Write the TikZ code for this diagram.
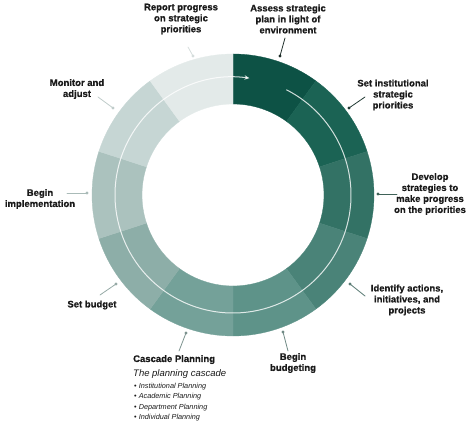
\documentclass[tikz,border=0pt]{standalone}
\usepackage{fontspec}
\setmainfont{Liberation Sans}[BoldFeatures={FakeBold=0.8}]
\usetikzlibrary{arrows.meta, positioning}

\definecolor{segA}{HTML}{0D5245}
\definecolor{segB}{HTML}{1B6354}
\definecolor{segC}{HTML}{337265}
\definecolor{segD}{HTML}{4A8378}
\definecolor{segE}{HTML}{5E9389}
\definecolor{segF}{HTML}{74A199}
\definecolor{segG}{HTML}{8DAEA8}
\definecolor{segH}{HTML}{ABC2BE}
\definecolor{segI}{HTML}{C6D6D4}
\definecolor{segJ}{HTML}{E3EAE9}
\definecolor{txt}{HTML}{1A1A1A}

\begin{document}
\begin{tikzpicture}[x=1pt, y=1pt, >=Stealth, line join=round, line cap=round,
    lbl/.style={font=\fontsize{9.5}{11}\selectfont\bfseries, text=txt, align=center, inner sep=0pt},
    lead/.style={line width=0.8pt}]
    \useasboundingbox (0,0) rectangle (474,428);
    \coordinate (O) at (233,233);

    % ring of ten steps, clockwise from the top
    \foreach \i/\col in {0/segA,1/segB,2/segC,3/segD,4/segE,5/segF,6/segG,7/segH,8/segI,9/segJ} {
        \pgfmathsetmacro\a{90-36*\i}
        \pgfmathsetmacro\b{54-36*\i}
        \fill[\col, draw=\col, line width=0.3pt, shift={(O)}] (\a:141) arc[start angle=\a, end angle=\b, radius=141]
            -- (\b:91) arc[start angle=\b, end angle=\a, radius=91] -- cycle;
    }

    \draw[white, opacity=0.8, line width=1pt, -{Stealth[length=5pt, width=4.5pt]}, shift={(O)}]
        (63:118) arc[start angle=63, end angle=-278, radius=118];

    \node[lbl] (assess) at (288,409) {Assess strategic\\plan in light of\\environment};
    \node[lbl] (setprio) at (393,333) {Set institutional\\strategic\\priorities};
    \node[lbl] (develop) at (430,234) {Develop\\strategies to\\make progress\\on the priorities};
    \node[lbl] (identify) at (407,128) {Identify actions,\\initiatives, and\\projects};
    \node[lbl] (budgeting) at (293,65) {Begin\\budgeting};
    \node[lbl] (setbudget) at (92,123) {Set budget};
    \node[lbl] (implement) at (40,229) {Begin\\implementation};
    \node[lbl] (monitor) at (77,339) {Monitor and\\adjust};
    \node[lbl] (report) at (181,409) {Report progress\\on strategic\\priorities};

    \node[lbl, anchor=base west] (cascade) at (133,66) {Cascade Planning};
    \node[lbl, anchor=base west, font=\fontsize{9.5}{11}\selectfont\itshape] (cascsub) at (133,51) {The planning cascade};
    \node[lbl, anchor=north west, align=left, font=\fontsize{7.3}{10.4}\selectfont\itshape] (plans) at (134,45)
        {{\upshape\textbullet} Institutional Planning\\{\upshape\textbullet} Academic Planning\\{\upshape\textbullet} Department Planning\\{\upshape\textbullet} Individual Planning};

    \coordinate (assess-a) at (285,390);    \coordinate (assess-b) at (280,372);
    \coordinate (setprio-a) at (365,331);   \coordinate (setprio-b) at (349,320);
    \coordinate (develop-a) at (397,234);   \coordinate (develop-b) at (378,234);
    \coordinate (identify-a) at (365,132);  \coordinate (identify-b) at (350,144);
    \coordinate (budgeting-a) at (288,77);  \coordinate (budgeting-b) at (283,96);
    \coordinate (cascade-a) at (179,77);    \coordinate (cascade-b) at (186,95);
    \coordinate (setbudget-a) at (100,133); \coordinate (setbudget-b) at (116,144);
    \coordinate (implement-a) at (67,235);  \coordinate (implement-b) at (87,235);
    \coordinate (monitor-a) at (98,331);    \coordinate (monitor-b) at (113,320);
    \coordinate (report-a) at (188,381);    \coordinate (report-b) at (193,372);

    \foreach \n/\col in {assess/1F2E2A, setprio/223A34, develop/3F6258, identify/5A7B74,
        budgeting/708A85, cascade/7D938F, setbudget/96AAA6, implement/AABBB8,
        monitor/C0CCCA, report/D5DDDC} {
        \definecolor{ld}{HTML}{\col}
        \draw[lead, ld] (\n-a) -- (\n-b);
        \fill[ld] (\n-b) circle (1.6pt);
    }
\end{tikzpicture}
\end{document}
